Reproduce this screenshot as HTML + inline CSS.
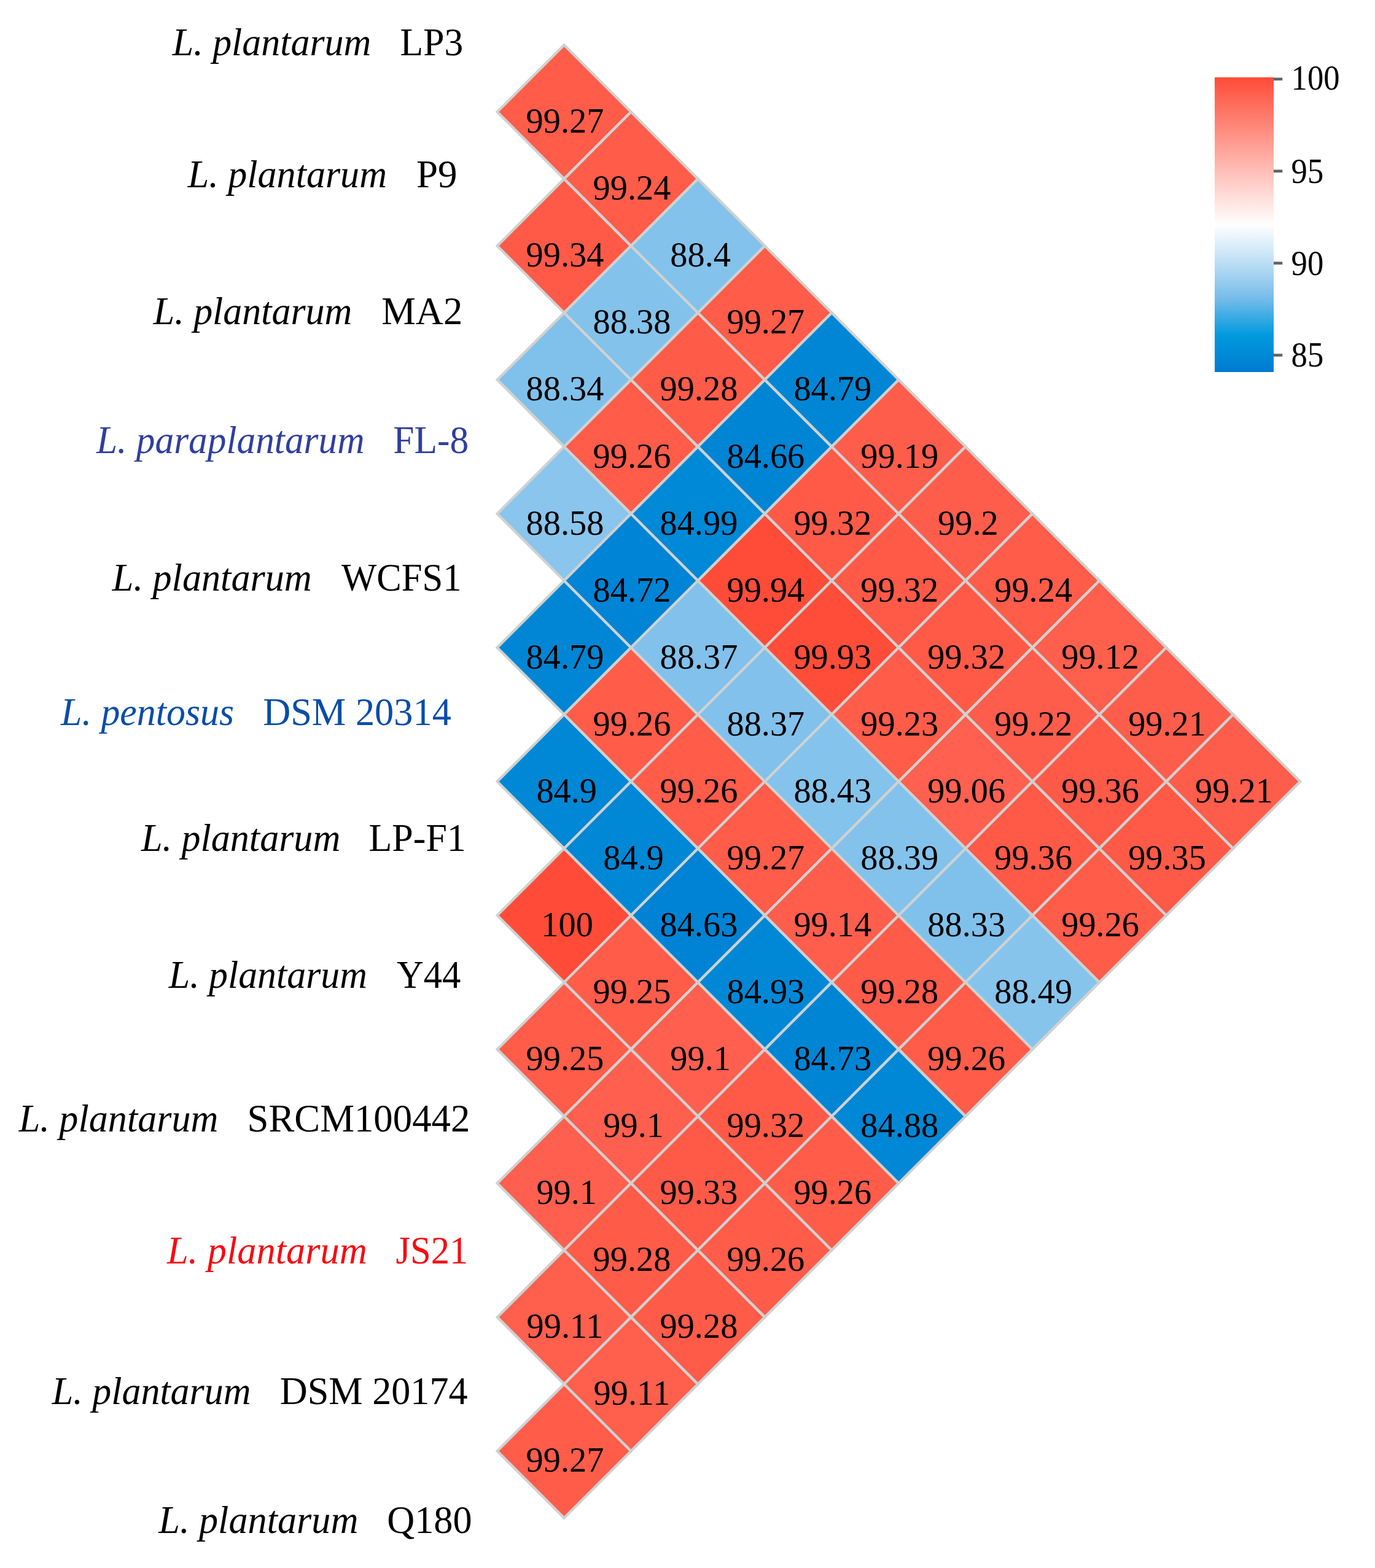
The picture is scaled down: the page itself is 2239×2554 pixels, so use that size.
<!DOCTYPE html>
<html lang="en">
<head>
<meta charset="utf-8">
<title>ANI heatmap</title>
<style>
html,body{margin:0;padding:0;background:#fff;}
body{width:2239px;height:2554px;}
svg{display:block;}
text{font-family:"Liberation Serif","Times New Roman",Times,serif;}
.c{font-size:58px;text-anchor:middle;fill:#000;}
.li{font-size:63.5px;font-style:italic;}
.ls{font-size:63.5px;}
.t{font-size:56px;fill:#000;}
</style>
</head>
<body>
<svg width="2239" height="2554" viewBox="0 0 2239 2554">
<defs><linearGradient id="cb" x1="0" y1="1" x2="0" y2="0">
<stop offset="0.0000" stop-color="#007ad1"/>
<stop offset="0.1250" stop-color="#009ade"/>
<stop offset="0.2500" stop-color="#76bce9"/>
<stop offset="0.3750" stop-color="#bfdff5"/>
<stop offset="0.5000" stop-color="#ffffff"/>
<stop offset="1.0000" stop-color="#ff4b37"/>
</linearGradient></defs>
<rect x="0" y="0" width="2239" height="2554" fill="#fff"/>
<g stroke="#cfd2d1" stroke-width="4.3" stroke-linejoin="miter">
<polygon points="918.60,73.24 1027.55,182.30 918.60,291.36 809.65,182.30" fill="#ff5c49"/>
<polygon points="918.60,291.36 1027.55,400.42 918.60,509.48 809.65,400.42" fill="#ff5a48"/>
<polygon points="918.60,509.48 1027.55,618.54 918.60,727.60 809.65,618.54" fill="#80c1eb"/>
<polygon points="918.60,727.60 1027.55,836.66 918.60,945.72 809.65,836.66" fill="#89c5ec"/>
<polygon points="918.60,945.72 1027.55,1054.78 918.60,1163.84 809.65,1054.78" fill="#0086d5"/>
<polygon points="918.60,1163.84 1027.55,1272.90 918.60,1381.96 809.65,1272.90" fill="#0087d6"/>
<polygon points="918.60,1381.96 1027.55,1491.02 918.60,1600.08 809.65,1491.02" fill="#ff4b37"/>
<polygon points="918.60,1600.08 1027.55,1709.14 918.60,1818.20 809.65,1709.14" fill="#ff5c4a"/>
<polygon points="918.60,1818.20 1027.55,1927.26 918.60,2036.32 809.65,1927.26" fill="#ff5f4e"/>
<polygon points="918.60,2036.32 1027.55,2145.38 918.60,2254.44 809.65,2145.38" fill="#ff5f4d"/>
<polygon points="918.60,2254.44 1027.55,2363.50 918.60,2472.56 809.65,2363.50" fill="#ff5c49"/>
<polygon points="1027.55,182.30 1136.50,291.36 1027.55,400.42 918.60,291.36" fill="#ff5c4a"/>
<polygon points="1027.55,400.42 1136.50,509.48 1027.55,618.54 918.60,509.48" fill="#82c2eb"/>
<polygon points="1027.55,618.54 1136.50,727.60 1027.55,836.66 918.60,727.60" fill="#ff5c4a"/>
<polygon points="1027.55,836.66 1136.50,945.72 1027.55,1054.78 918.60,945.72" fill="#0084d5"/>
<polygon points="1027.55,1054.78 1136.50,1163.84 1027.55,1272.90 918.60,1163.84" fill="#ff5c4a"/>
<polygon points="1027.55,1272.90 1136.50,1381.96 1027.55,1491.02 918.60,1381.96" fill="#0087d6"/>
<polygon points="1027.55,1491.02 1136.50,1600.08 1027.55,1709.14 918.60,1600.08" fill="#ff5c4a"/>
<polygon points="1027.55,1709.14 1136.50,1818.20 1027.55,1927.26 918.60,1818.20" fill="#ff5f4e"/>
<polygon points="1027.55,1927.26 1136.50,2036.32 1027.55,2145.38 918.60,2036.32" fill="#ff5b49"/>
<polygon points="1027.55,2145.38 1136.50,2254.44 1027.55,2363.50 918.60,2254.44" fill="#ff5f4d"/>
<polygon points="1136.50,291.36 1245.45,400.42 1136.50,509.48 1027.55,400.42" fill="#82c2eb"/>
<polygon points="1136.50,509.48 1245.45,618.54 1136.50,727.60 1027.55,618.54" fill="#ff5b49"/>
<polygon points="1136.50,727.60 1245.45,836.66 1136.50,945.72 1027.55,836.66" fill="#0089d7"/>
<polygon points="1136.50,945.72 1245.45,1054.78 1136.50,1163.84 1027.55,1054.78" fill="#81c1eb"/>
<polygon points="1136.50,1163.84 1245.45,1272.90 1136.50,1381.96 1027.55,1272.90" fill="#ff5c4a"/>
<polygon points="1136.50,1381.96 1245.45,1491.02 1136.50,1600.08 1027.55,1491.02" fill="#0083d4"/>
<polygon points="1136.50,1600.08 1245.45,1709.14 1136.50,1818.20 1027.55,1709.14" fill="#ff5f4e"/>
<polygon points="1136.50,1818.20 1245.45,1927.26 1136.50,2036.32 1027.55,1927.26" fill="#ff5a48"/>
<polygon points="1136.50,2036.32 1245.45,2145.38 1136.50,2254.44 1027.55,2145.38" fill="#ff5b49"/>
<polygon points="1245.45,400.42 1354.40,509.48 1245.45,618.54 1136.50,509.48" fill="#ff5c49"/>
<polygon points="1245.45,618.54 1354.40,727.60 1245.45,836.66 1136.50,727.60" fill="#0084d4"/>
<polygon points="1245.45,836.66 1354.40,945.72 1245.45,1054.78 1136.50,945.72" fill="#ff4c39"/>
<polygon points="1245.45,1054.78 1354.40,1163.84 1245.45,1272.90 1136.50,1163.84" fill="#81c1eb"/>
<polygon points="1245.45,1272.90 1354.40,1381.96 1245.45,1491.02 1136.50,1381.96" fill="#ff5c49"/>
<polygon points="1245.45,1491.02 1354.40,1600.08 1245.45,1709.14 1136.50,1600.08" fill="#0088d6"/>
<polygon points="1245.45,1709.14 1354.40,1818.20 1245.45,1927.26 1136.50,1818.20" fill="#ff5a48"/>
<polygon points="1245.45,1927.26 1354.40,2036.32 1245.45,2145.38 1136.50,2036.32" fill="#ff5c4a"/>
<polygon points="1354.40,509.48 1463.35,618.54 1354.40,727.60 1245.45,618.54" fill="#0086d5"/>
<polygon points="1354.40,727.60 1463.35,836.66 1354.40,945.72 1245.45,836.66" fill="#ff5a48"/>
<polygon points="1354.40,945.72 1463.35,1054.78 1354.40,1163.84 1245.45,1054.78" fill="#ff4d39"/>
<polygon points="1354.40,1163.84 1463.35,1272.90 1354.40,1381.96 1245.45,1272.90" fill="#84c3eb"/>
<polygon points="1354.40,1381.96 1463.35,1491.02 1354.40,1600.08 1245.45,1491.02" fill="#ff5e4d"/>
<polygon points="1354.40,1600.08 1463.35,1709.14 1354.40,1818.20 1245.45,1709.14" fill="#0085d5"/>
<polygon points="1354.40,1818.20 1463.35,1927.26 1354.40,2036.32 1245.45,1927.26" fill="#ff5c4a"/>
<polygon points="1463.35,618.54 1572.30,727.60 1463.35,836.66 1354.40,727.60" fill="#ff5d4b"/>
<polygon points="1463.35,836.66 1572.30,945.72 1463.35,1054.78 1354.40,945.72" fill="#ff5a48"/>
<polygon points="1463.35,1054.78 1572.30,1163.84 1463.35,1272.90 1354.40,1163.84" fill="#ff5c4a"/>
<polygon points="1463.35,1272.90 1572.30,1381.96 1463.35,1491.02 1354.40,1381.96" fill="#82c2eb"/>
<polygon points="1463.35,1491.02 1572.30,1600.08 1463.35,1709.14 1354.40,1600.08" fill="#ff5b49"/>
<polygon points="1463.35,1709.14 1572.30,1818.20 1463.35,1927.26 1354.40,1818.20" fill="#0087d6"/>
<polygon points="1572.30,727.60 1681.25,836.66 1572.30,945.72 1463.35,836.66" fill="#ff5d4b"/>
<polygon points="1572.30,945.72 1681.25,1054.78 1572.30,1163.84 1463.35,1054.78" fill="#ff5a48"/>
<polygon points="1572.30,1163.84 1681.25,1272.90 1572.30,1381.96 1463.35,1272.90" fill="#ff604f"/>
<polygon points="1572.30,1381.96 1681.25,1491.02 1572.30,1600.08 1463.35,1491.02" fill="#80c1eb"/>
<polygon points="1572.30,1600.08 1681.25,1709.14 1572.30,1818.20 1463.35,1709.14" fill="#ff5c4a"/>
<polygon points="1681.25,836.66 1790.20,945.72 1681.25,1054.78 1572.30,945.72" fill="#ff5c4a"/>
<polygon points="1681.25,1054.78 1790.20,1163.84 1681.25,1272.90 1572.30,1163.84" fill="#ff5d4b"/>
<polygon points="1681.25,1272.90 1790.20,1381.96 1681.25,1491.02 1572.30,1381.96" fill="#ff5947"/>
<polygon points="1681.25,1491.02 1790.20,1600.08 1681.25,1709.14 1572.30,1600.08" fill="#86c4ec"/>
<polygon points="1790.20,945.72 1899.15,1054.78 1790.20,1163.84 1681.25,1054.78" fill="#ff5f4d"/>
<polygon points="1790.20,1163.84 1899.15,1272.90 1790.20,1381.96 1681.25,1272.90" fill="#ff5947"/>
<polygon points="1790.20,1381.96 1899.15,1491.02 1790.20,1600.08 1681.25,1491.02" fill="#ff5c4a"/>
<polygon points="1899.15,1054.78 2008.10,1163.84 1899.15,1272.90 1790.20,1163.84" fill="#ff5d4b"/>
<polygon points="1899.15,1272.90 2008.10,1381.96 1899.15,1491.02 1790.20,1381.96" fill="#ff5a47"/>
<polygon points="2008.10,1163.84 2117.05,1272.90 2008.10,1381.96 1899.15,1272.90" fill="#ff5d4b"/>
</g>
<g>
<text class="c" transform="translate(920.00 216.20) scale(0.972 1)">99.27</text>
<text class="c" transform="translate(920.00 434.32) scale(0.972 1)">99.34</text>
<text class="c" transform="translate(920.00 652.44) scale(0.972 1)">88.34</text>
<text class="c" transform="translate(920.00 870.56) scale(0.972 1)">88.58</text>
<text class="c" transform="translate(920.00 1088.68) scale(0.972 1)">84.79</text>
<text class="c" transform="translate(922.70 1306.80) scale(0.972 1)">84.9</text>
<text class="c" transform="translate(923.60 1524.92) scale(0.972 1)">100</text>
<text class="c" transform="translate(920.00 1743.04) scale(0.972 1)">99.25</text>
<text class="c" transform="translate(922.70 1961.16) scale(0.972 1)">99.1</text>
<text class="c" transform="translate(920.00 2179.28) scale(0.972 1)">99.11</text>
<text class="c" transform="translate(920.00 2397.40) scale(0.972 1)">99.27</text>
<text class="c" transform="translate(1028.95 325.26) scale(0.972 1)">99.24</text>
<text class="c" transform="translate(1028.95 543.38) scale(0.972 1)">88.38</text>
<text class="c" transform="translate(1028.95 761.50) scale(0.972 1)">99.26</text>
<text class="c" transform="translate(1028.95 979.62) scale(0.972 1)">84.72</text>
<text class="c" transform="translate(1028.95 1197.74) scale(0.972 1)">99.26</text>
<text class="c" transform="translate(1031.65 1415.86) scale(0.972 1)">84.9</text>
<text class="c" transform="translate(1028.95 1633.98) scale(0.972 1)">99.25</text>
<text class="c" transform="translate(1031.65 1852.10) scale(0.972 1)">99.1</text>
<text class="c" transform="translate(1028.95 2070.22) scale(0.972 1)">99.28</text>
<text class="c" transform="translate(1028.95 2288.34) scale(0.972 1)">99.11</text>
<text class="c" transform="translate(1140.60 434.32) scale(0.972 1)">88.4</text>
<text class="c" transform="translate(1137.90 652.44) scale(0.972 1)">99.28</text>
<text class="c" transform="translate(1137.90 870.56) scale(0.972 1)">84.99</text>
<text class="c" transform="translate(1137.90 1088.68) scale(0.972 1)">88.37</text>
<text class="c" transform="translate(1137.90 1306.80) scale(0.972 1)">99.26</text>
<text class="c" transform="translate(1137.90 1524.92) scale(0.972 1)">84.63</text>
<text class="c" transform="translate(1140.60 1743.04) scale(0.972 1)">99.1</text>
<text class="c" transform="translate(1137.90 1961.16) scale(0.972 1)">99.33</text>
<text class="c" transform="translate(1137.90 2179.28) scale(0.972 1)">99.28</text>
<text class="c" transform="translate(1246.85 543.38) scale(0.972 1)">99.27</text>
<text class="c" transform="translate(1246.85 761.50) scale(0.972 1)">84.66</text>
<text class="c" transform="translate(1246.85 979.62) scale(0.972 1)">99.94</text>
<text class="c" transform="translate(1246.85 1197.74) scale(0.972 1)">88.37</text>
<text class="c" transform="translate(1246.85 1415.86) scale(0.972 1)">99.27</text>
<text class="c" transform="translate(1246.85 1633.98) scale(0.972 1)">84.93</text>
<text class="c" transform="translate(1246.85 1852.10) scale(0.972 1)">99.32</text>
<text class="c" transform="translate(1246.85 2070.22) scale(0.972 1)">99.26</text>
<text class="c" transform="translate(1355.80 652.44) scale(0.972 1)">84.79</text>
<text class="c" transform="translate(1355.80 870.56) scale(0.972 1)">99.32</text>
<text class="c" transform="translate(1355.80 1088.68) scale(0.972 1)">99.93</text>
<text class="c" transform="translate(1355.80 1306.80) scale(0.972 1)">88.43</text>
<text class="c" transform="translate(1355.80 1524.92) scale(0.972 1)">99.14</text>
<text class="c" transform="translate(1355.80 1743.04) scale(0.972 1)">84.73</text>
<text class="c" transform="translate(1355.80 1961.16) scale(0.972 1)">99.26</text>
<text class="c" transform="translate(1464.75 761.50) scale(0.972 1)">99.19</text>
<text class="c" transform="translate(1464.75 979.62) scale(0.972 1)">99.32</text>
<text class="c" transform="translate(1464.75 1197.74) scale(0.972 1)">99.23</text>
<text class="c" transform="translate(1464.75 1415.86) scale(0.972 1)">88.39</text>
<text class="c" transform="translate(1464.75 1633.98) scale(0.972 1)">99.28</text>
<text class="c" transform="translate(1464.75 1852.10) scale(0.972 1)">84.88</text>
<text class="c" transform="translate(1576.40 870.56) scale(0.972 1)">99.2</text>
<text class="c" transform="translate(1573.70 1088.68) scale(0.972 1)">99.32</text>
<text class="c" transform="translate(1573.70 1306.80) scale(0.972 1)">99.06</text>
<text class="c" transform="translate(1573.70 1524.92) scale(0.972 1)">88.33</text>
<text class="c" transform="translate(1573.70 1743.04) scale(0.972 1)">99.26</text>
<text class="c" transform="translate(1682.65 979.62) scale(0.972 1)">99.24</text>
<text class="c" transform="translate(1682.65 1197.74) scale(0.972 1)">99.22</text>
<text class="c" transform="translate(1682.65 1415.86) scale(0.972 1)">99.36</text>
<text class="c" transform="translate(1682.65 1633.98) scale(0.972 1)">88.49</text>
<text class="c" transform="translate(1791.60 1088.68) scale(0.972 1)">99.12</text>
<text class="c" transform="translate(1791.60 1306.80) scale(0.972 1)">99.36</text>
<text class="c" transform="translate(1791.60 1524.92) scale(0.972 1)">99.26</text>
<text class="c" transform="translate(1900.55 1197.74) scale(0.972 1)">99.21</text>
<text class="c" transform="translate(1900.55 1415.86) scale(0.972 1)">99.35</text>
<text class="c" transform="translate(2009.50 1306.80) scale(0.972 1)">99.21</text>
</g>
<g>
<text class="li" transform="translate(280.68 90.30) scale(0.9761 1)" fill="#000">L. plantarum</text><text class="ls" transform="translate(651.56 90.30) scale(0.9703 1)" fill="#000">LP3</text>
<text class="li" transform="translate(305.68 304.90) scale(0.9779 1)" fill="#000">L. plantarum</text><text class="ls" transform="translate(677.92 304.90) scale(0.9919 1)" fill="#000">P9</text>
<text class="li" transform="translate(249.68 527.80) scale(0.9761 1)" fill="#000">L. plantarum</text><text class="ls" transform="translate(621.13 527.80) scale(0.9859 1)" fill="#000">MA2</text>
<text class="li" transform="translate(156.97 737.80) scale(0.9667 1)" fill="#2f3f9f">L. paraplantarum</text><text class="ls" transform="translate(640.37 737.80) scale(0.9675 1)" fill="#2f3f9f">FL-8</text>
<text class="li" transform="translate(182.78 962.10) scale(0.9800 1)" fill="#000">L. plantarum</text><text class="ls" transform="translate(556.02 962.10) scale(0.9550 1)" fill="#000">WCFS1</text>
<text class="li" transform="translate(98.98 1180.90) scale(0.9753 1)" fill="#0a4da8">L. pentosus</text><text class="ls" transform="translate(428.13 1180.90) scale(0.9825 1)" fill="#0a4da8">DSM 20314</text>
<text class="li" transform="translate(229.88 1386.00) scale(0.9782 1)" fill="#000">L. plantarum</text><text class="ls" transform="translate(600.55 1386.00) scale(0.9750 1)" fill="#000">LP-F1</text>
<text class="li" transform="translate(274.77 1608.90) scale(0.9742 1)" fill="#000">L. plantarum</text><text class="ls" transform="translate(646.00 1608.90) scale(0.9550 1)" fill="#000">Y44</text>
<text class="li" transform="translate(30.68 1843.30) scale(0.9797 1)" fill="#000">L. plantarum</text><text class="ls" transform="translate(402.55 1843.30) scale(0.9886 1)" fill="#000">SRCM100442</text>
<text class="li" transform="translate(271.88 2057.80) scale(0.9830 1)" fill="#fa0a12">L. plantarum</text><text class="ls" transform="translate(644.47 2057.80) scale(0.9550 1)" fill="#fa0a12">JS21</text>
<text class="li" transform="translate(84.78 2286.90) scale(0.9761 1)" fill="#000">L. plantarum</text><text class="ls" transform="translate(455.84 2286.90) scale(0.9793 1)" fill="#000">DSM 20174</text>
<text class="li" transform="translate(258.28 2496.80) scale(0.9803 1)" fill="#000">L. plantarum</text><text class="ls" transform="translate(630.16 2496.80) scale(0.9809 1)" fill="#000">Q180</text>
</g>
<rect x="1978" y="126" width="96" height="480" fill="url(#cb)"/>
<line x1="2074" x2="2088.3" y1="128.8" y2="128.8" stroke="#5f6568" stroke-width="4.6"/><text class="t" transform="translate(2102.6 146.3) scale(0.94 1)">100</text>
<line x1="2074" x2="2088.3" y1="278.7" y2="278.7" stroke="#5f6568" stroke-width="4.6"/><text class="t" transform="translate(2102.6 297.5) scale(0.94 1)">95</text>
<line x1="2074" x2="2088.3" y1="428.6" y2="428.6" stroke="#5f6568" stroke-width="4.6"/><text class="t" transform="translate(2102.6 447.5) scale(0.94 1)">90</text>
<line x1="2074" x2="2088.3" y1="578.5" y2="578.5" stroke="#5f6568" stroke-width="4.6"/><text class="t" transform="translate(2102.6 597.4) scale(0.94 1)">85</text>
</svg>
</body>
</html>
